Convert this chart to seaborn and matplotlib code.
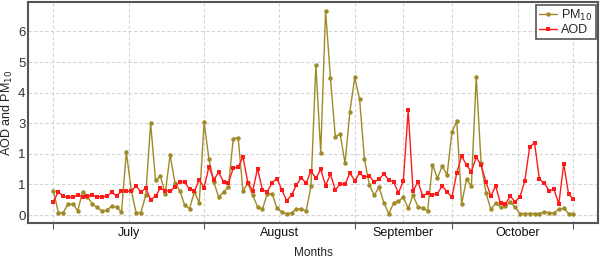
import numpy as np
import pandas as pd
import matplotlib
matplotlib.use("Agg")
import matplotlib.pyplot as plt
import seaborn as sns

# daily values, July -> October (index = day number in the record)
pm10 = [0.78, 0.08, 0.08, 0.36, 0.36, 0.14, 0.76, 0.60, 0.36, 0.25,
        0.13, 0.16, 0.29, 0.25, 0.10, 2.05, 0.82, 0.08, 0.08, 0.66,
        3.00, 1.14, 1.27, 0.70, 1.97, 1.05, 0.80, 0.32, 0.21, 0.76,
        0.40, 3.03, 1.82, 1.08, 0.58, 0.76, 0.92, 2.50, 2.53, 0.79,
        1.04, 0.65, 0.27, 0.19, 0.69, 0.70, 0.22, 0.11, 0.04, 0.08,
        0.20, 0.20, 0.13, 0.95, 4.90, 2.04, 6.68, 4.47, 2.56, 2.65,
        1.69, 3.38, 4.50, 3.78, 1.82, 0.99, 0.65, 0.91, 0.40, 0.04,
        0.39, 0.45, 0.58, 0.22, 0.65, 0.27, 0.22, 0.14, 1.65, 1.20,
        1.60, 1.31, 2.72, 3.07, 0.36, 1.17, 0.95, 4.52, 1.69, 0.73,
        0.19, 0.38, 0.27, 0.28, 0.43, 0.25, 0.05, 0.05, 0.05, 0.05,
        0.05, 0.10, 0.08, 0.06, 0.19, 0.22, 0.05, 0.05]

aod = [0.43, 0.76, 0.61, 0.58, 0.58, 0.65, 0.60, 0.62, 0.65, 0.60,
       0.60, 0.62, 0.74, 0.63, 0.79, 0.78, 0.78, 0.95, 0.75, 0.88,
       0.50, 0.62, 0.88, 0.80, 0.78, 0.92, 1.08, 1.08, 0.84, 0.78,
       1.15, 0.90, 1.58, 1.15, 1.40, 1.08, 1.05, 1.53, 1.56, 1.90,
       1.06, 0.79, 1.52, 0.82, 0.76, 1.06, 1.19, 0.82, 0.47, 0.65,
       0.98, 1.22, 1.04, 1.44, 1.20, 1.49, 0.96, 1.34, 0.82, 1.02,
       1.00, 1.38, 1.12, 1.37, 1.23, 1.29, 1.07, 1.18, 1.34, 1.15,
       1.08, 0.72, 1.12, 3.43, 0.78, 1.09, 0.62, 0.73, 0.67, 0.70,
       0.95, 0.76, 0.58, 1.38, 1.93, 1.63, 1.42, 1.89, 1.63, 1.09,
       0.62, 0.95, 0.38, 0.35, 0.62, 0.43, 0.60, 1.12, 2.23, 2.36,
       1.17, 1.04, 0.80, 0.84, 0.36, 1.67, 0.69, 0.52]

month_names = ["July", "August", "September", "October"]
month_edges = [0, 31, 62, 82, 107]
month_centers = [15.5, 46.5, 72, 95.5]
ytick_labels = ["0", "1", "1", "3", "4", "5", "6"]

days = np.arange(len(pm10))
df = pd.concat([
    pd.DataFrame({"day": days, "value": pm10, "series": "PM$_{10}$"}),
    pd.DataFrame({"day": days, "value": aod, "series": "AOD"}),
])

sns.set_style("whitegrid", {"grid.linestyle": (0, (3, 2)), "grid.color": "#d4d4d4"})
plt.rcParams["font.family"] = ["Liberation Sans", "DejaVu Sans"]

fig = plt.figure(figsize=(6, 2.59), dpi=100)
ax = fig.add_axes([0.047, 0.139, 0.950, 0.853])

sns.lineplot(data=df, x="day", y="value", hue="series", style="series",
             palette=["#a08a26", "#ff1a1a"], markers=["o", "s"], dashes=False,
             markersize=3.2, markeredgewidth=0, linewidth=1.0, ax=ax)

ax.set_xlim(-5.2, 112.1)
ax.set_ylim(-0.26, 6.96)

ax.set_yticks(range(7))
ax.set_yticklabels(ytick_labels, fontsize=9.5, color="#333333")

ax.set_xticks(month_edges)
ax.set_xticklabels([""] * len(month_edges))
ax.set_xticks(month_centers, minor=True)
ax.set_xticklabels(month_names, minor=True, fontsize=9, color="#111111",
                   fontweight="medium")
ax.tick_params(axis="x", which="major", length=4, width=0.8, color="#555555",
               direction="out", bottom=True)
ax.tick_params(axis="x", which="minor", length=0, pad=3)
ax.tick_params(axis="y", length=0, pad=2)
ax.grid(True, which="both", axis="x")
ax.grid(True, which="major", axis="y")

for side in ax.spines.values():
    side.set_color("#555555")
    side.set_linewidth(1.5)

ax.set_xlabel("Months", fontsize=8.5, color="#222222", labelpad=6)
ax.set_ylabel("AOD and PM$_{10}$", fontsize=9, color="#222222", labelpad=2)

leg = ax.legend(loc="upper right", fontsize=9, frameon=True, fancybox=False,
                handlelength=1.5, handletextpad=0.3, borderpad=0.25,
                labelspacing=0.1, borderaxespad=0.2)
leg.get_frame().set_edgecolor("#555555")
leg.get_frame().set_linewidth(1.2)
leg.get_frame().set_alpha(1)

fig.savefig("out.png", dpi=100)
